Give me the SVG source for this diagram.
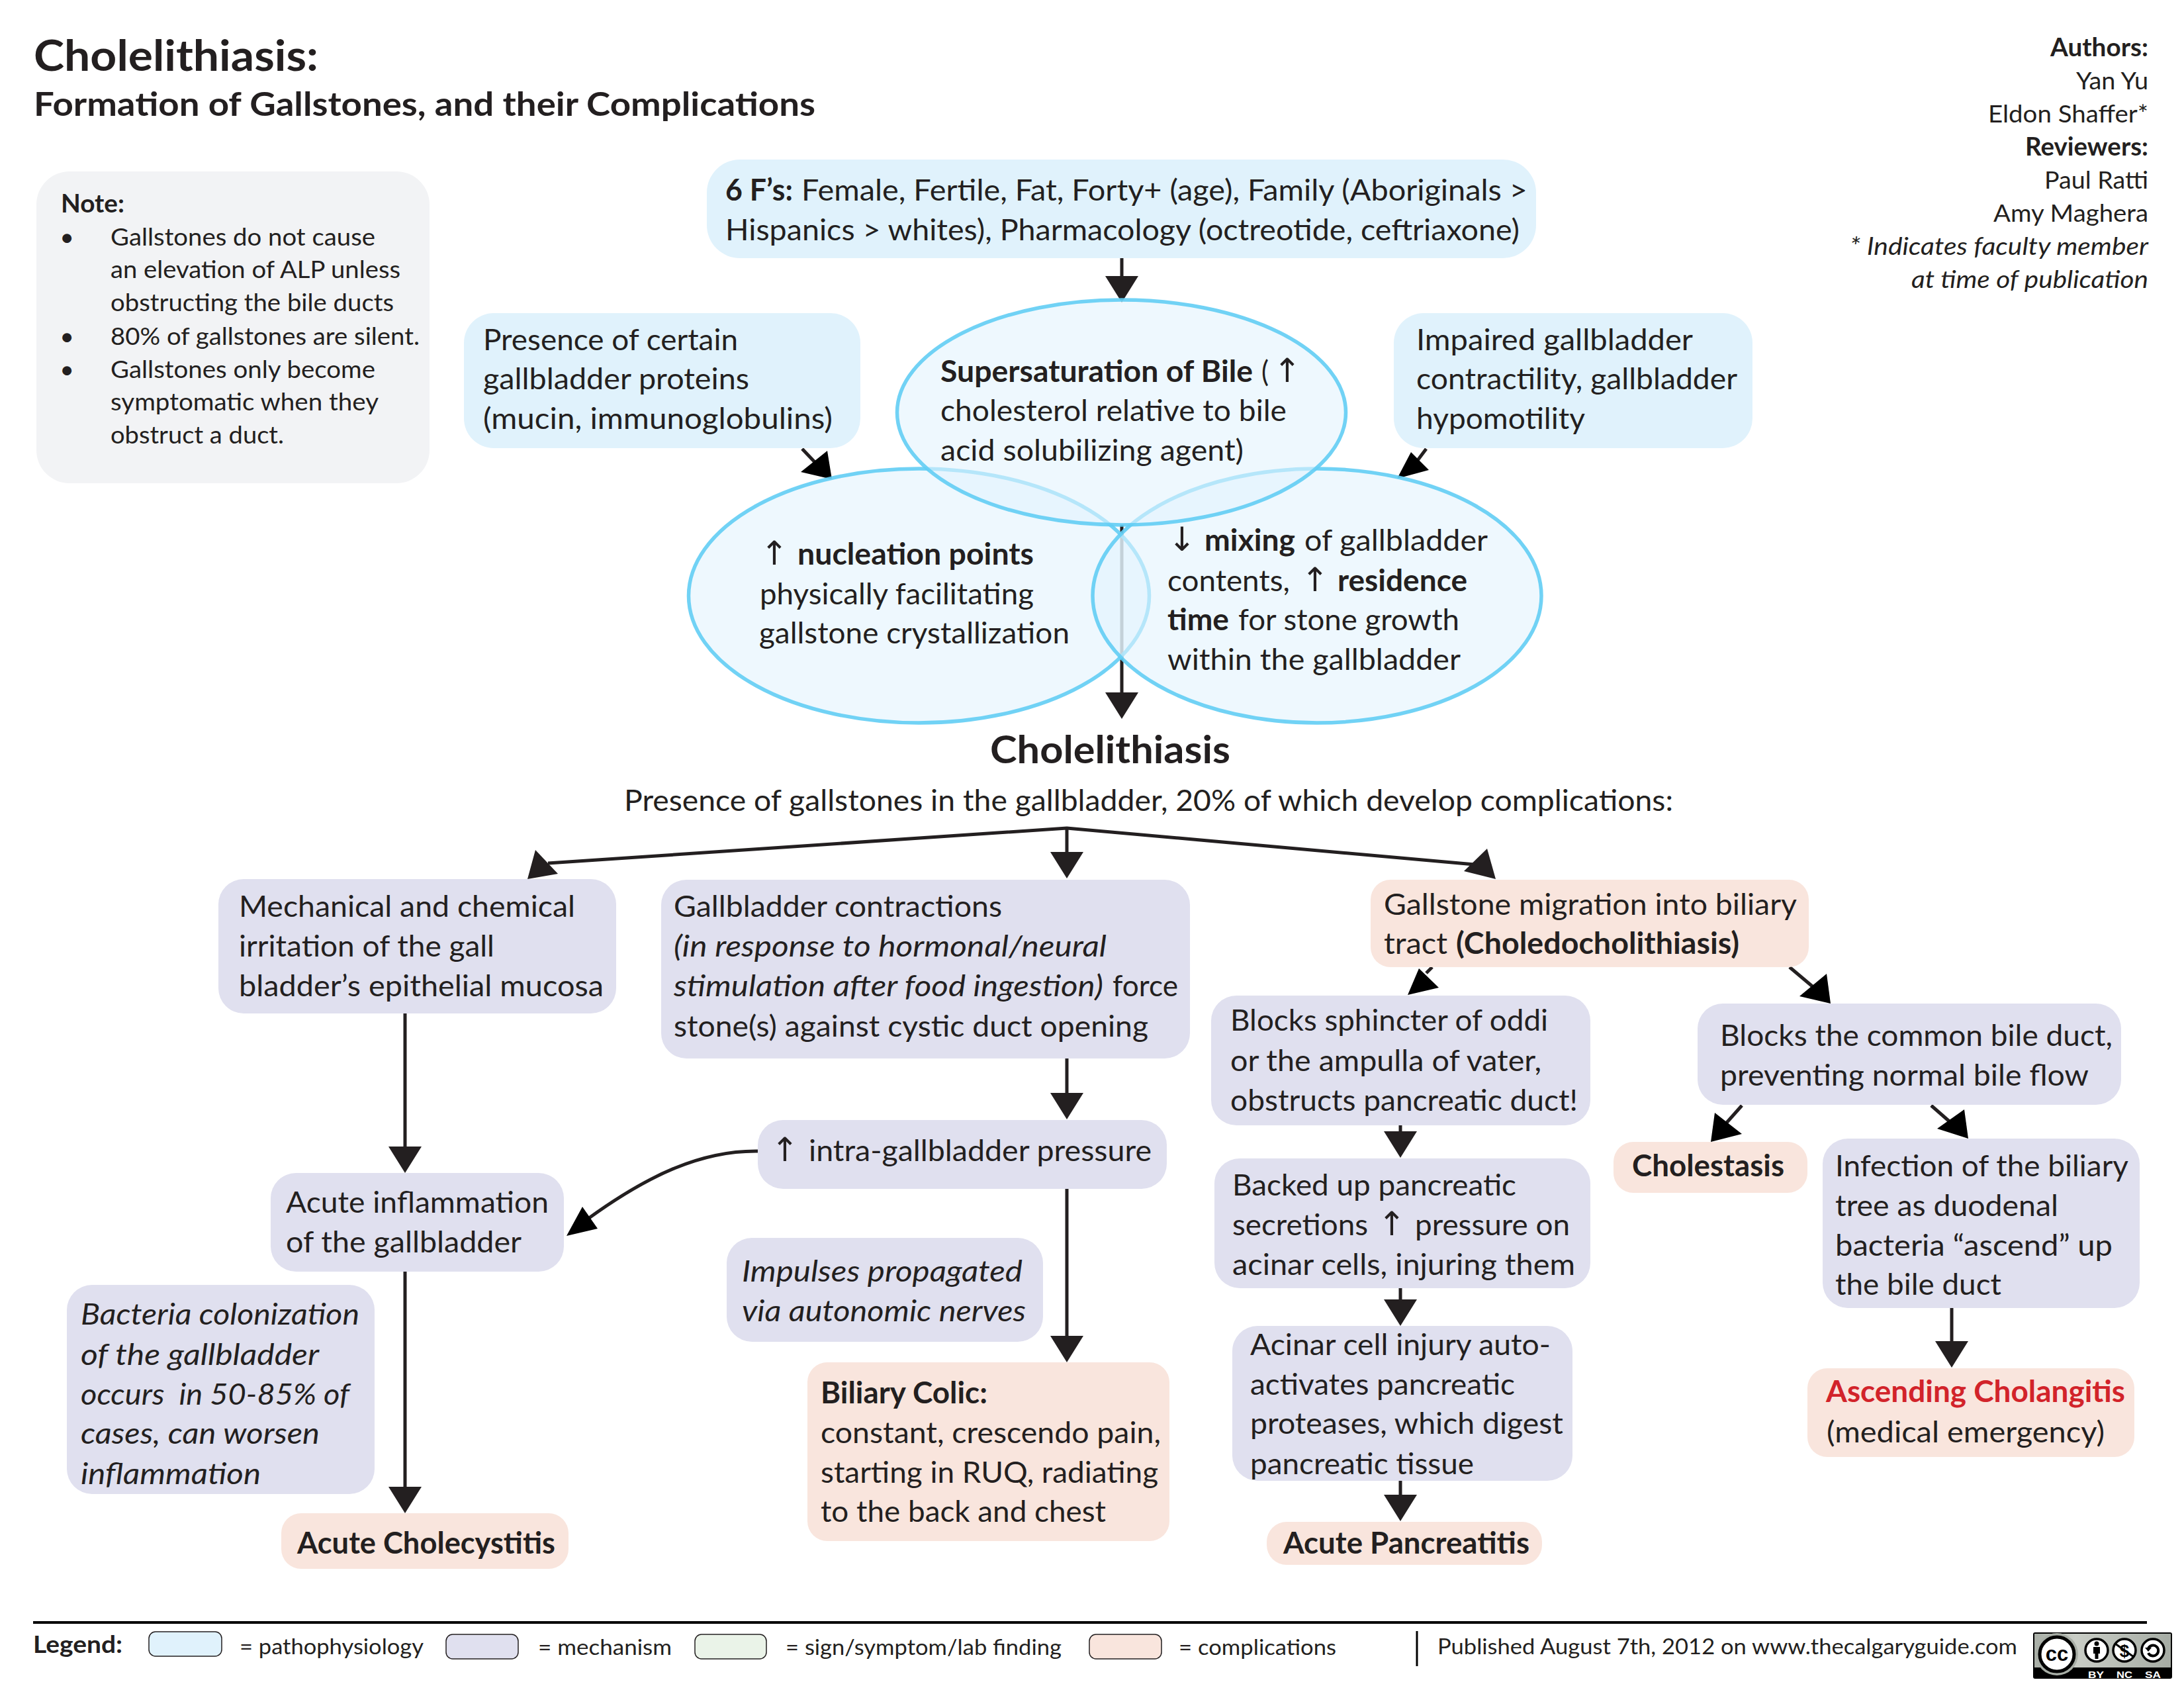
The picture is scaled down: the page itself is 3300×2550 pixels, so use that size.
<svg xmlns="http://www.w3.org/2000/svg" width="3300" height="2550" viewBox="0 0 3300 2550">
<style>
text{font-family:Lato,"Liberation Sans",sans-serif;fill:#231f20;font-size:45px;transform:translateY(1.5px)}
.s{font-size:37.5px}
.l{font-size:32px}
.bd{font-weight:700}
.it{font-style:italic}
.ar{font-family:"DejaVu Sans",sans-serif;font-weight:400;font-style:normal;font-size:50px}
.blue{fill:#e0f2fc}
.mech{fill:#e0e0ef}
.comp{fill:#f9e5dd}
.sign{fill:#eaf3e8}
.note{fill:#f2f3f5}
.sw{stroke:#231f20;stroke-width:1.5}
.venn{fill:#e3f4fd;fill-opacity:.6;stroke:#62cdf4;stroke-opacity:.9;stroke-width:5.5}
.cn{fill:none;stroke:#231f20;stroke-width:5}
.head{fill:#000}
.ccb{font-family:"Liberation Sans",sans-serif;font-size:15px;font-weight:700;fill:#fff}
</style>
<defs>
<marker id="ah" markerUnits="userSpaceOnUse" markerWidth="42" markerHeight="52" refX="0" refY="26" orient="auto" viewBox="0 0 42 52"><path d="M0,1 L40,26 L0,51 Z" fill="#231f20"/></marker>
<linearGradient id="ccg" x1="0" y1="0" x2="1" y2="0"><stop offset="0" stop-color="#a8aea6"/><stop offset=".3" stop-color="#c9cdc6"/><stop offset="1" stop-color="#a6aca4"/></linearGradient>
</defs>
<rect width="3300" height="2550" fill="#fff"/>

<g id="title">
<text class="bd" x="51" y="105" style="font-size:65px" textLength="430" lengthAdjust="spacingAndGlyphs">Cholelithiasis:</text>
<text class="bd" x="51" y="173" style="font-size:50px" textLength="1181" lengthAdjust="spacingAndGlyphs">Formation of Gallstones, and their Complications</text>
</g>

<g id="authors" class="authors">
<text class="s bd" x="3098" y="83" textLength="148" lengthAdjust="spacingAndGlyphs">Authors:</text>
<text class="s" x="3137" y="133" textLength="109" lengthAdjust="spacingAndGlyphs">Yan Yu</text>
<text class="s" x="3004" y="183" textLength="242" lengthAdjust="spacingAndGlyphs">Eldon Shaffer*</text>
<text class="s bd" x="3060" y="233" textLength="186" lengthAdjust="spacingAndGlyphs">Reviewers:</text>
<text class="s" x="3089" y="283" textLength="157" lengthAdjust="spacingAndGlyphs">Paul Ratti</text>
<text class="s" x="3012" y="333" textLength="234" lengthAdjust="spacingAndGlyphs">Amy Maghera</text>
<text class="s it" x="2795" y="383" textLength="451" lengthAdjust="spacingAndGlyphs">* Indicates faculty member</text>
<text class="s it" x="2888" y="433" textLength="358" lengthAdjust="spacingAndGlyphs">at time of publication</text>
</g>

<g id="connectors">
<line class="cn" x1="1695" y1="390" x2="1695" y2="417" marker-end="url(#ah)"/>
<line class="cn" x1="1212" y1="678" x2="1232" y2="699"/><polygon class="head" points="1257,724 1250,681 1210,713"/>
<line class="cn" x1="2155" y1="678" x2="2140" y2="698"/><polygon class="head" points="2111,723 2159,710 2132,683"/>
<line class="cn" x1="1695" y1="793" x2="1695" y2="1046" marker-end="url(#ah)"/>
<path class="cn" d="M828,1304 L1612,1251 L2228,1306"/>
<polygon class="head" style="fill:#231f20" points="797,1328 809,1284 843,1320"/>
<polygon class="head" style="fill:#231f20" points="2260,1328 2247,1282 2212,1316"/>
<line class="cn" x1="1612" y1="1251" x2="1612" y2="1287" marker-end="url(#ah)"/>
<line class="cn" x1="612" y1="1531" x2="612" y2="1732" marker-end="url(#ah)"/>
<line class="cn" x1="612" y1="1921" x2="612" y2="2246" marker-end="url(#ah)"/>
<line class="cn" x1="1612" y1="1599" x2="1612" y2="1651" marker-end="url(#ah)"/>
<line class="cn" x1="1612" y1="1796" x2="1612" y2="2018" marker-end="url(#ah)"/>
<path class="cn" d="M1145,1739 C1060,1738 980,1775 890,1840"/>
<polygon class="head" points="856,1867 880,1823 903,1856"/>
<line class="cn" x1="2164" y1="1461" x2="2155" y2="1470"/><polygon class="head" points="2127,1503 2174,1492 2144,1463"/>
<line class="cn" x1="2116" y1="1700" x2="2116" y2="1709" marker-end="url(#ah)"/>
<line class="cn" x1="2116" y1="1946" x2="2116" y2="1963" marker-end="url(#ah)"/>
<line class="cn" x1="2116" y1="2237" x2="2116" y2="2258" marker-end="url(#ah)"/>
<line class="cn" x1="2704" y1="1461" x2="2742" y2="1493"/><polygon class="head" points="2766,1516 2719,1505 2760,1471"/>
<line class="cn" x1="2632" y1="1670" x2="2608" y2="1697"/><polygon class="head" points="2585,1725 2591,1681 2632,1713"/>
<line class="cn" x1="2918" y1="1670" x2="2950" y2="1698"/><polygon class="head" points="2974,1720 2927,1705 2968,1676"/>
<line class="cn" x1="2949" y1="1976" x2="2949" y2="2026" marker-end="url(#ah)"/>
</g>

<g id="note">
<rect class="note" x="55" y="259" width="594" height="471" rx="50"/>
<text class="s bd" x="92" y="319" textLength="96" lengthAdjust="spacingAndGlyphs">Note:</text>
<text class="s" x="101" y="369" text-anchor="middle">•</text>
<text class="s" x="101" y="519" text-anchor="middle">•</text>
<text class="s" x="101" y="569" text-anchor="middle">•</text>
<text class="s" x="167" y="369" textLength="400" lengthAdjust="spacingAndGlyphs">Gallstones do not cause</text>
<text class="s" x="167" y="418" textLength="438" lengthAdjust="spacingAndGlyphs">an elevation of ALP unless</text>
<text class="s" x="167" y="468" textLength="428" lengthAdjust="spacingAndGlyphs">obstructing the bile ducts</text>
<text class="s" x="167" y="519" textLength="467" lengthAdjust="spacingAndGlyphs">80% of gallstones are silent.</text>
<text class="s" x="167" y="569" textLength="400" lengthAdjust="spacingAndGlyphs">Gallstones only become</text>
<text class="s" x="167" y="618" textLength="405" lengthAdjust="spacingAndGlyphs">symptomatic when they</text>
<text class="s" x="167" y="668" textLength="262" lengthAdjust="spacingAndGlyphs">obstruct a duct.</text>
</g>

<g id="six-fs">
<rect class="blue" x="1068" y="241" width="1253" height="149" rx="50"/>
<text y="301"><tspan class="bd" x="1096" textLength="102" lengthAdjust="spacingAndGlyphs">6 F’s:</tspan><tspan x="1211" textLength="1097" lengthAdjust="spacingAndGlyphs">Female, Fertile, Fat, Forty+ (age), Family (Aboriginals &gt;</tspan></text>
<text x="1096" y="361" textLength="1200" lengthAdjust="spacingAndGlyphs">Hispanics &gt; whites), Pharmacology (octreotide, ceftriaxone)</text>
</g>

<g id="proteins">
<rect class="blue" x="701" y="473" width="599" height="204" rx="45"/>
<text x="730" y="527" textLength="385" lengthAdjust="spacingAndGlyphs">Presence of certain</text>
<text x="730" y="586" textLength="402" lengthAdjust="spacingAndGlyphs">gallbladder proteins</text>
<text x="730" y="646" textLength="528" lengthAdjust="spacingAndGlyphs">(mucin, immunoglobulins)</text>
</g>

<g id="impaired">
<rect class="blue" x="2106" y="473" width="542" height="204" rx="45"/>
<text x="2140" y="527" textLength="418" lengthAdjust="spacingAndGlyphs">Impaired gallbladder</text>
<text x="2140" y="586" textLength="485" lengthAdjust="spacingAndGlyphs">contractility, gallbladder</text>
<text x="2140" y="646" textLength="255" lengthAdjust="spacingAndGlyphs">hypomotility</text>
</g>

<g id="nucleation">
<ellipse class="venn" cx="1388.5" cy="900" rx="348" ry="192"/>
</g>
<g id="mixing">
<ellipse class="venn" cx="1990" cy="900" rx="339" ry="192"/>
</g>
<g id="supersaturation">
<ellipse class="venn" cx="1694.5" cy="623" rx="339" ry="170"/>
<text y="575"><tspan class="bd" x="1421" textLength="472" lengthAdjust="spacingAndGlyphs">Supersaturation of Bile</tspan><tspan x="1906" textLength="11" lengthAdjust="spacingAndGlyphs">(</tspan><tspan class="ar" x="1924">↑</tspan></text>
<text x="1421" y="634" textLength="523" lengthAdjust="spacingAndGlyphs">cholesterol relative to bile</text>
<text x="1421" y="694" textLength="458" lengthAdjust="spacingAndGlyphs">acid solubilizing agent)</text>
</g>
<g id="nucleation-text">
<text y="851"><tspan class="ar" x="1149">↑</tspan><tspan class="bd" x="1205" textLength="357" lengthAdjust="spacingAndGlyphs">nucleation points</tspan></text>
<text x="1148" y="911" textLength="414" lengthAdjust="spacingAndGlyphs">physically facilitating</text>
<text x="1147" y="970" textLength="469" lengthAdjust="spacingAndGlyphs">gallstone crystallization</text>
</g>
<g id="mixing-text">
<text y="830"><tspan class="ar" x="1765">↓</tspan><tspan class="bd" x="1820" textLength="137" lengthAdjust="spacingAndGlyphs">mixing</tspan><tspan x="1971" textLength="277" lengthAdjust="spacingAndGlyphs">of gallbladder</tspan></text>
<text y="891"><tspan x="1764" textLength="185" lengthAdjust="spacingAndGlyphs">contents,</tspan><tspan class="ar" x="1966">↑</tspan><tspan class="bd" x="2021" textLength="196" lengthAdjust="spacingAndGlyphs">residence</tspan></text>
<text y="950"><tspan class="bd" x="1764" textLength="93" lengthAdjust="spacingAndGlyphs">time</tspan><tspan x="1871" textLength="334" lengthAdjust="spacingAndGlyphs">for stone growth</tspan></text>
<text x="1764" y="1010" textLength="443" lengthAdjust="spacingAndGlyphs">within the gallbladder</text>
</g>

<g id="cholelithiasis">
<text class="bd" x="1496" y="1151" style="font-size:57px" textLength="363" lengthAdjust="spacingAndGlyphs">Cholelithiasis</text>
<text x="943" y="1223" textLength="1585" lengthAdjust="spacingAndGlyphs">Presence of gallstones in the gallbladder, 20% of which develop complications:</text>
</g>

<g id="mechanical">
<rect class="mech" x="330" y="1328" width="601" height="203" rx="38"/>
<text x="361" y="1383" textLength="508" lengthAdjust="spacingAndGlyphs">Mechanical and chemical</text>
<text x="361" y="1443" textLength="386" lengthAdjust="spacingAndGlyphs">irritation of the gall</text>
<text x="361" y="1503" textLength="551" lengthAdjust="spacingAndGlyphs">bladder’s epithelial mucosa</text>
</g>
<g id="inflammation">
<rect class="mech" x="409" y="1772" width="443" height="149" rx="38"/>
<text x="432" y="1830" textLength="397" lengthAdjust="spacingAndGlyphs">Acute inflammation</text>
<text x="432" y="1890" textLength="356" lengthAdjust="spacingAndGlyphs">of the gallbladder</text>
</g>
<g id="bacteria">
<rect class="mech" x="101" y="1941" width="465" height="316" rx="38"/>
<text class="it" x="122" y="1999" textLength="421" lengthAdjust="spacingAndGlyphs">Bacteria colonization</text>
<text class="it" x="122" y="2060" textLength="360" lengthAdjust="spacingAndGlyphs">of the gallbladder</text>
<text class="it" x="122" y="2120" textLength="406" lengthAdjust="spacingAndGlyphs" xml:space="preserve">occurs  in 50-85% of</text>
<text class="it" x="122" y="2179" textLength="361" lengthAdjust="spacingAndGlyphs">cases, can worsen</text>
<text class="it" x="122" y="2240" textLength="272" lengthAdjust="spacingAndGlyphs">inflammation</text>
</g>
<g id="cholecystitis">
<rect class="comp" x="425" y="2286" width="434" height="84" rx="30"/>
<text class="bd" x="449" y="2345" textLength="390" lengthAdjust="spacingAndGlyphs">Acute Cholecystitis</text>
</g>

<g id="contractions">
<rect class="mech" x="999" y="1329" width="799" height="270" rx="38"/>
<text x="1018" y="1383" textLength="496" lengthAdjust="spacingAndGlyphs">Gallbladder contractions</text>
<text class="it" x="1018" y="1443" textLength="654" lengthAdjust="spacingAndGlyphs">(in response to hormonal/neural</text>
<text y="1503"><tspan class="it" x="1018" textLength="649" lengthAdjust="spacingAndGlyphs">stimulation after food ingestion)</tspan><tspan x="1681" textLength="99" lengthAdjust="spacingAndGlyphs">force</tspan></text>
<text x="1018" y="1564" textLength="717" lengthAdjust="spacingAndGlyphs">stone(s) against cystic duct opening</text>
</g>
<g id="pressure">
<rect class="mech" x="1145" y="1692" width="618" height="104" rx="38"/>
<text y="1752"><tspan class="ar" x="1165">↑</tspan><tspan x="1222" textLength="518" lengthAdjust="spacingAndGlyphs">intra-gallbladder pressure</tspan></text>
</g>
<g id="impulses">
<rect class="mech" x="1098" y="1870" width="478" height="157" rx="38"/>
<text class="it" x="1121" y="1934" textLength="424" lengthAdjust="spacingAndGlyphs">Impulses propagated</text>
<text class="it" x="1121" y="1994" textLength="429" lengthAdjust="spacingAndGlyphs">via autonomic nerves</text>
</g>
<g id="biliary-colic">
<rect class="comp" x="1220" y="2058" width="547" height="270" rx="30"/>
<text class="bd" x="1240" y="2118" textLength="252" lengthAdjust="spacingAndGlyphs">Biliary Colic:</text>
<text x="1240" y="2178" textLength="514" lengthAdjust="spacingAndGlyphs">constant, crescendo pain,</text>
<text x="1240" y="2238" textLength="510" lengthAdjust="spacingAndGlyphs">starting in RUQ, radiating</text>
<text x="1240" y="2297" textLength="431" lengthAdjust="spacingAndGlyphs">to the back and chest</text>
</g>

<g id="migration">
<rect class="comp" x="2071" y="1329" width="662" height="132" rx="30"/>
<text x="2091" y="1380" textLength="624" lengthAdjust="spacingAndGlyphs">Gallstone migration into biliary</text>
<text y="1439"><tspan x="2091" textLength="96" lengthAdjust="spacingAndGlyphs">tract</tspan><tspan class="bd" x="2200" textLength="428" lengthAdjust="spacingAndGlyphs">(Choledocholithiasis)</tspan></text>
</g>
<g id="sphincter">
<rect class="mech" x="1830" y="1504" width="573" height="196" rx="38"/>
<text x="1859" y="1555" textLength="480" lengthAdjust="spacingAndGlyphs">Blocks sphincter of oddi</text>
<text x="1859" y="1616" textLength="470" lengthAdjust="spacingAndGlyphs">or the ampulla of vater,</text>
<text x="1859" y="1676" textLength="525" lengthAdjust="spacingAndGlyphs">obstructs pancreatic duct!</text>
</g>
<g id="secretions">
<rect class="mech" x="1835" y="1750" width="568" height="196" rx="38"/>
<text x="1862" y="1804" textLength="429" lengthAdjust="spacingAndGlyphs">Backed up pancreatic</text>
<text y="1864"><tspan x="1862" textLength="205" lengthAdjust="spacingAndGlyphs">secretions</tspan><tspan class="ar" x="2082">↑</tspan><tspan x="2138" textLength="234" lengthAdjust="spacingAndGlyphs">pressure on</tspan></text>
<text x="1862" y="1924" textLength="518" lengthAdjust="spacingAndGlyphs">acinar cells, injuring them</text>
</g>
<g id="acinar">
<rect class="mech" x="1862" y="2003" width="514" height="234" rx="38"/>
<text x="1889" y="2045" textLength="454" lengthAdjust="spacingAndGlyphs">Acinar cell injury auto-</text>
<text x="1889" y="2105" textLength="400" lengthAdjust="spacingAndGlyphs">activates pancreatic</text>
<text x="1889" y="2164" textLength="473" lengthAdjust="spacingAndGlyphs">proteases, which digest</text>
<text x="1889" y="2225" textLength="338" lengthAdjust="spacingAndGlyphs">pancreatic tissue</text>
</g>
<g id="pancreatitis">
<rect class="comp" x="1914" y="2299" width="416" height="65" rx="30"/>
<text class="bd" x="1939" y="2345" textLength="372" lengthAdjust="spacingAndGlyphs">Acute Pancreatitis</text>
</g>
<g id="common-duct">
<rect class="mech" x="2565" y="1516" width="640" height="153" rx="38"/>
<text x="2599" y="1578" textLength="593" lengthAdjust="spacingAndGlyphs">Blocks the common bile duct,</text>
<text x="2599" y="1638" textLength="557" lengthAdjust="spacingAndGlyphs">preventing normal bile flow</text>
</g>
<g id="cholestasis">
<rect class="comp" x="2438" y="1725" width="293" height="77" rx="30"/>
<text class="bd" x="2466" y="1775" textLength="230" lengthAdjust="spacingAndGlyphs">Cholestasis</text>
</g>
<g id="infection">
<rect class="mech" x="2754" y="1720" width="479" height="256" rx="38"/>
<text x="2773" y="1775" textLength="443" lengthAdjust="spacingAndGlyphs">Infection of the biliary</text>
<text x="2773" y="1835" textLength="337" lengthAdjust="spacingAndGlyphs">tree as duodenal</text>
<text x="2773" y="1895" textLength="419" lengthAdjust="spacingAndGlyphs">bacteria “ascend” up</text>
<text x="2773" y="1954" textLength="251" lengthAdjust="spacingAndGlyphs">the bile duct</text>
</g>
<g id="cholangitis">
<rect class="comp" x="2731" y="2067" width="494" height="134" rx="30"/>
<text class="bd" x="2759" y="2116" style="fill:#d2232a" textLength="452" lengthAdjust="spacingAndGlyphs">Ascending Cholangitis</text>
<text x="2760" y="2177" textLength="420" lengthAdjust="spacingAndGlyphs">(medical emergency)</text>
</g>

<g id="legend">
<rect x="50" y="2449" width="3194" height="4" fill="#000"/>
<text class="bd" x="50" y="2495" style="font-size:36px" textLength="135" lengthAdjust="spacingAndGlyphs">Legend:</text>
<rect class="blue sw" x="225" y="2465" width="110" height="37" rx="10"/>
<text class="l" x="362" y="2497" textLength="278" lengthAdjust="spacingAndGlyphs">= pathophysiology</text>
<rect class="mech sw" x="674" y="2469" width="109" height="37" rx="10"/>
<text class="l" x="813" y="2498" textLength="202" lengthAdjust="spacingAndGlyphs">= mechanism</text>
<rect class="sign sw" x="1050" y="2469" width="108" height="37" rx="10"/>
<text class="l" x="1187" y="2498" textLength="417" lengthAdjust="spacingAndGlyphs">= sign/symptom/lab finding</text>
<rect class="comp sw" x="1646" y="2469" width="109" height="37" rx="10"/>
<text class="l" x="1781" y="2498" textLength="238" lengthAdjust="spacingAndGlyphs">= complications</text>
<line x1="2141" y1="2464" x2="2141" y2="2517" stroke="#000" stroke-width="3"/>
<text class="l" x="2172" y="2497" textLength="876" lengthAdjust="spacingAndGlyphs">Published August 7th, 2012 on www.thecalgaryguide.com</text>
</g>

<g id="cc-badge">
<rect x="3072" y="2466" width="210" height="70" rx="3" fill="#000"/>
<rect x="3074" y="2468" width="206" height="51" fill="url(#ccg)"/>
<circle cx="3108" cy="2499" r="32" fill="#a8aea6"/>
<circle cx="3108" cy="2499" r="26" fill="#fff" stroke="#000" stroke-width="5"/>
<text x="3108" y="2507" text-anchor="middle" style="font-family:'Liberation Sans',sans-serif;font-weight:700;font-size:31px;fill:#000">cc</text>
<circle cx="3168" cy="2493" r="17" fill="#fff" stroke="#000" stroke-width="3.5"/>
<circle cx="3168" cy="2483" r="3.5" fill="#000"/>
<path d="M3163,2488 h10 v10 h-2.5 v8 h-5 v-8 h-2.5 Z" fill="#000"/>
<circle cx="3210" cy="2493" r="17" fill="#fff" stroke="#000" stroke-width="3.5"/>
<text x="3210" y="2501" text-anchor="middle" style="font-family:'Liberation Sans',sans-serif;font-weight:700;font-size:26px;fill:#000">$</text>
<line x1="3196" y1="2483" x2="3224" y2="2503" stroke="#000" stroke-width="3"/>
<circle cx="3253" cy="2493" r="17" fill="#fff" stroke="#000" stroke-width="3.5"/>
<path d="M3246,2490 A8,8 0 1 1 3246,2497" fill="none" stroke="#000" stroke-width="4"/>
<path d="M3241,2489 L3251,2489 L3246,2495 Z" fill="#000"/>
<text class="ccb" x="3155" y="2533.5" textLength="24" lengthAdjust="spacingAndGlyphs">BY</text>
<text class="ccb" x="3198" y="2533.5" textLength="24" lengthAdjust="spacingAndGlyphs">NC</text>
<text class="ccb" x="3241" y="2533.5" textLength="24" lengthAdjust="spacingAndGlyphs">SA</text>
</g>
</svg>
